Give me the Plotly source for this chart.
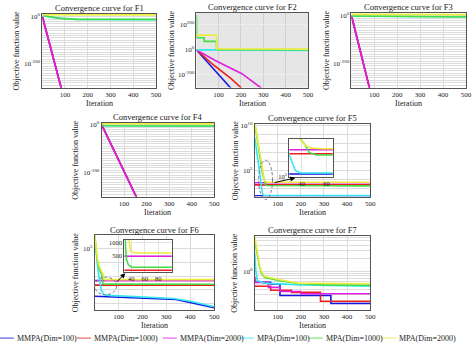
import plotly.graph_objects as go

W, H = 474, 346
FONT = "Liberation Serif, Times New Roman, serif"

SERIES = ["MMPA(Dim=100)", "MMPA(Dim=1000)", "MMPA(Dim=2000)",
          "MPA(Dim=100)", "MPA(Dim=1000)", "MPA(Dim=2000)"]
COLORS = ["#1616e0", "#ec1e1e", "#e020e0", "#34e6f0", "#44dc44", "#ecec3c"]
X_TICKS = [100, 200, 300, 400, 500]

# Convergence data: one (iterations, best value) pair per series, in SERIES order
F1 = [
    ([1, 84], [1.0, 1e-304]),
    ([1, 84], [1.0, 1e-304]),
    ([1, 84], [1.0, 1e-304]),
    ([1, 60, 150, 500], [1e4, 1e-5, 1e-11, 1e-12]),
    ([1, 40, 80, 150, 500], [1e5, 1e-2, 1e-7, 1e-11, 1e-11]),
    ([1, 500], [1e9, 1e8]),
]
F2 = [
    ([1, 155], [1.0, 1e-306]),
    ([1, 71, 156, 203], [1.0, 1e-111, 1e-229, 1e-306]),
    ([1, 85, 204, 292], [1.0, 1e-85, 1e-190, 1e-306]),
    ([1, 500], [1.0, 1e-4]),
    ([1, 2, 35, 36, 90, 91, 100, 500], [1e280, 1e97, 1e97, 1e68, 1e68, 1e6, 1e1, 1e1]),
    ([1, 90, 91, 500], [1e118, 1e118, 1e8, 1e6]),
]
F3 = [
    ([1, 80], [1.0, 1e-304]),
    ([1, 80], [1.0, 1e-304]),
    ([1, 80], [1.0, 1e-304]),
    ([1, 500], [1e-2, 1e-4]),
    ([1, 500], [1e-1, 1e-5]),
    ([1, 500], [1e6, 1e5]),
]
F4 = [
    ([1, 156], [1.0, 1e-304]),
    ([1, 156], [1.0, 1e-304]),
    ([1, 156], [1.0, 1e-304]),
    ([1, 10, 500], [1e2, 1e-4, 1e-6]),
    ([1, 10, 500], [1e3, 1e-4, 1e-5]),
    ([1, 500], [1e5, 1e4]),
]
F5 = [
    ([1, 500], [141, 141]),
    ([1, 500], [2300, 2300]),
    ([1, 500], [4000, 4000]),
    ([1, 22, 31, 35, 39, 500], [5.0e8, 5.0e4, 1.26e3, 220, 160, 148]),
    ([1, 20, 35, 42, 46, 52, 500], [2.0e10, 8.0e6, 4.0e4, 9.3e3, 2.75e3, 1.95e3, 1.8e3]),
    ([1, 20, 30, 38, 43, 48, 56, 500], [2.5e10, 1.6e7, 4.0e5, 2.0e4, 7.0e3, 5.0e3, 4.6e3, 4.5e3]),
]
F6 = [
    ([1, 100, 340, 500], [35, 30, 20, 5]),
    ([1, 5, 500], [240, 224, 224]),
    ([1, 5, 500], [500, 475, 475]),
    ([1, 8, 16, 28, 38, 60, 330, 400, 500], [5.0e5, 2.0e4, 1.6e3, 100, 46, 40, 24, 15, 6]),
    ([1, 6, 12, 20, 31, 33, 36, 41, 500], [8.9e5, 7.9e4, 1.26e4, 3.16e3, 1.15e3, 400, 295, 263, 261]),
    ([1, 6, 12, 20, 30, 37, 39, 45, 500], [9.5e5, 1.0e5, 1.8e4, 5.0e3, 1.8e3, 1.15e3, 630, 562, 557]),
]
F7 = [
    ([1, 70, 70, 110, 110, 330, 330, 500], [0.575, 0.575, 0.525, 0.525, 0.288, 0.288, 0.19, 0.19]),
    ([1, 70, 70, 160, 160, 285, 285, 500], [0.468, 0.468, 0.38, 0.38, 0.339, 0.339, 0.214, 0.214]),
    ([1, 4, 60, 60, 110, 110, 200, 200, 500], [0.776, 0.57, 0.57, 0.44, 0.44, 0.355, 0.355, 0.316, 0.316]),
    ([1, 6, 12, 40, 200, 500], [2.75, 1.0, 0.63, 0.55, 0.5, 0.468]),
    ([1, 10, 20, 30, 44, 115, 187, 300, 500], [5.25, 2.63, 1.41, 0.93, 0.74, 0.617, 0.537, 0.5, 0.49]),
    ([1, 10, 20, 30, 44, 115, 187, 500], [6.3, 3.16, 1.58, 1.0, 0.776, 0.646, 0.55, 0.53]),
]


def px(x):
    return x / W


def py(y):
    return 1 - y / H


def sup(e):
    return "10<sup>%d</sup>" % e


# panel: (title, data, box px (left, right, top, bottom), log y range, grid values, labelled ticks)
PANELS = [
    ("Convergence curve for F1", F1, (43, 158, 11, 86), [-300, 12.5],
     [10.0 ** k for k in range(-300, 11, 10)], {1.0: sup(0), 1e-200: sup(-200)}),
    ("Convergence curve for F2", F2, (199, 312, 10, 86), [-300, 296],
     [], {1e200: sup(200), 1.0: sup(0), 1e-200: sup(-200)}),
    ("Convergence curve for F3", F3, (356, 472, 10, 86), [-300, 12.5],
     [10.0 ** k for k in range(-300, 11, 10)], {1.0: sup(0), 1e-200: sup(-200)}),
    ("Convergence curve for F4", F4, (103, 217, 122, 197), [-300, 8],
     [10.0 ** k for k in range(-300, 1, 10)], {1.0: sup(0), 1e-200: sup(-200)}),
    ("Convergence curve for F5", F5, (258, 375, 123, 197), [2.05, 10.2],
     [10.0 ** k for k in range(3, 11)], {1e5: sup(5), 1e10: sup(10)}),
    ("Convergence curve for F6", F6, (96, 217, 236, 312), [0.57, 6.0],
     [10.0 ** k for k in range(1, 6)], {1e5: sup(5)}),
    ("Convergence curve for F7", F7, (258, 375, 237, 312), [-0.86, 0.81],
     [0.2, 0.3, 0.4, 0.5, 0.6, 0.7, 0.8, 0.9, 2.0, 3.0, 4.0, 5.0, 6.0], {1.0: sup(0)}),
]

# zoomed insets: (source data, box px, x range, log y range, x ticks, y ticks, y tick text)
INSETS = [
    (F5, (293, 337, 138, 177), [30, 65], [1.97, 4.27], [40, 60], [100], [sup(2)]),
    (F6, (126, 174, 241, 274), [30, 100], [2.303, 3.057], [40, 60, 80], [500, 1000], ["500", "1000"]),
]

fig = go.Figure()
layout = dict(width=W, height=H, autosize=False, margin=dict(l=0, r=0, t=0, b=0),
              paper_bgcolor="white", plot_bgcolor="white", showlegend=False,
              font=dict(family=FONT, color="#222"))
shapes, annotations = [], []

AXIS_LINE = dict(showline=True, mirror=True, linecolor="#555", linewidth=1, ticks="",
                 zeroline=False, tickfont=dict(size=7, family=FONT, color="#222"))

for i, (title, data, (l, r, t, b), yr, grid, labels) in enumerate(PANELS, start=1):
    sx = "" if i == 1 else str(i)
    for name, color, (it, val) in zip(SERIES, COLORS, data):
        fig.add_trace(go.Scatter(x=it, y=val, mode="lines", name=name,
                                 line=dict(color=color, width=1.6),
                                 xaxis="x" + sx, yaxis="y" + sx, hoverinfo="skip"))
    gcol = "#d0d0d0" if i == 2 else "#dcdcdc"
    layout["xaxis" + sx] = dict(AXIS_LINE, domain=[px(l), px(r)], range=[1, 500],
                                anchor="y" + sx, tickvals=X_TICKS, showgrid=True,
                                gridcolor=gcol, gridwidth=1)
    yaxis = dict(AXIS_LINE, domain=[py(b), py(t)], type="log", range=yr, anchor="x" + sx,
                 tickvals=list(labels.keys()), ticktext=list(labels.values()),
                 showgrid=True, gridcolor="#eeeeee" if i == 2 else gcol, gridwidth=1)
    if grid:
        yaxis["minor"] = dict(tickmode="array", tickvals=grid, showgrid=True,
                              gridcolor=gcol, gridwidth=1, ticks="")
    layout["yaxis" + sx] = yaxis
    if i == 2:
        shapes.append(dict(type="rect", xref="x2 domain", yref="y2 domain", x0=0, x1=1,
                           y0=0, y1=1, fillcolor="#e6e6e6", line=dict(width=0), layer="below"))
    cx = (l + r) / 2
    annotations.append(dict(text=title, x=px(cx), y=py(t - 5.5), xref="paper", yref="paper",
                            showarrow=False, font=dict(size=8.5, family=FONT, color="#222"),
                            xanchor="center", yanchor="middle"))
    annotations.append(dict(text="Iteration", x=px(cx), y=py(b + 16), xref="paper",
                            yref="paper", showarrow=False,
                            font=dict(size=8, family=FONT, color="#222"),
                            xanchor="center", yanchor="middle"))
    ylab_x = l - (26 if i <= 4 else 20)
    annotations.append(dict(text="Objective function value", x=px(ylab_x), y=py((t + b) / 2),
                            xref="paper", yref="paper", showarrow=False, textangle=-90,
                            font=dict(size=8, family=FONT, color="#222"),
                            xanchor="center", yanchor="middle"))

for k, (data, (l, r, t, b), xr, yr, xt, yt, ytt) in enumerate(INSETS, start=8):
    sx = str(k)
    shapes.append(dict(type="rect", xref="x%s domain" % sx, yref="y%s domain" % sx,
                       x0=0, x1=1, y0=0, y1=1, fillcolor="white", line=dict(width=0),
                       layer="below"))
    for name, color, (it, val) in zip(SERIES, COLORS, data):
        fig.add_trace(go.Scatter(x=it, y=val, mode="lines", name=name,
                                 line=dict(color=color, width=1.6),
                                 xaxis="x" + sx, yaxis="y" + sx, hoverinfo="skip"))
    small = dict(AXIS_LINE, tickfont=dict(size=6.5, family=FONT, color="#222"))
    layout["xaxis" + sx] = dict(small, domain=[px(l), px(r)], range=xr, anchor="y" + sx,
                                tickvals=xt, showgrid=True, gridcolor="#e2e2e2")
    layout["yaxis" + sx] = dict(small, domain=[py(b), py(t)], type="log", range=yr,
                                anchor="x" + sx, tickvals=yt, ticktext=ytt,
                                showgrid=True, gridcolor="#e2e2e2")

# dashed ellipses marking the zoomed regions, with arrows pointing to the insets
for (x0, x1, y0, y1), (tx, ty, hx, hy) in [((262, 276, 160, 200), (277, 183, 299, 178)),
                                           ((96, 118, 279, 297), (117, 285, 127, 275))]:
    shapes.append(dict(type="circle", xref="paper", yref="paper", x0=px(x0), x1=px(x1),
                       y0=py(y1), y1=py(y0),
                       line=dict(color="#6a7890", width=1, dash="3px,2px")))
    annotations.append(dict(text="", x=px(hx), y=py(hy), xref="paper", yref="paper",
                            axref="pixel", ayref="pixel", ax=tx - hx, ay=ty - hy,
                            showarrow=True, arrowhead=2, arrowsize=1, arrowwidth=1,
                            arrowcolor="black"))

# legend row
LEG_X = [0, 78, 165, 243, 313, 387]
LEG_Y = 341
for x0, name, color in zip(LEG_X, SERIES, COLORS):
    shapes.append(dict(type="line", xref="paper", yref="paper", x0=px(x0), x1=px(x0 + 14),
                       y0=py(LEG_Y), y1=py(LEG_Y), line=dict(color=color, width=1.2),
                       opacity=0.7))
    annotations.append(dict(text=name, x=px(x0 + 15), y=py(LEG_Y), xref="paper",
                            yref="paper", showarrow=False, xanchor="left", yanchor="middle",
                            font=dict(size=8, family=FONT, color="#222")))

layout["shapes"] = shapes
layout["annotations"] = annotations
fig.update_layout(**layout)
fig.write_html("out.html")
